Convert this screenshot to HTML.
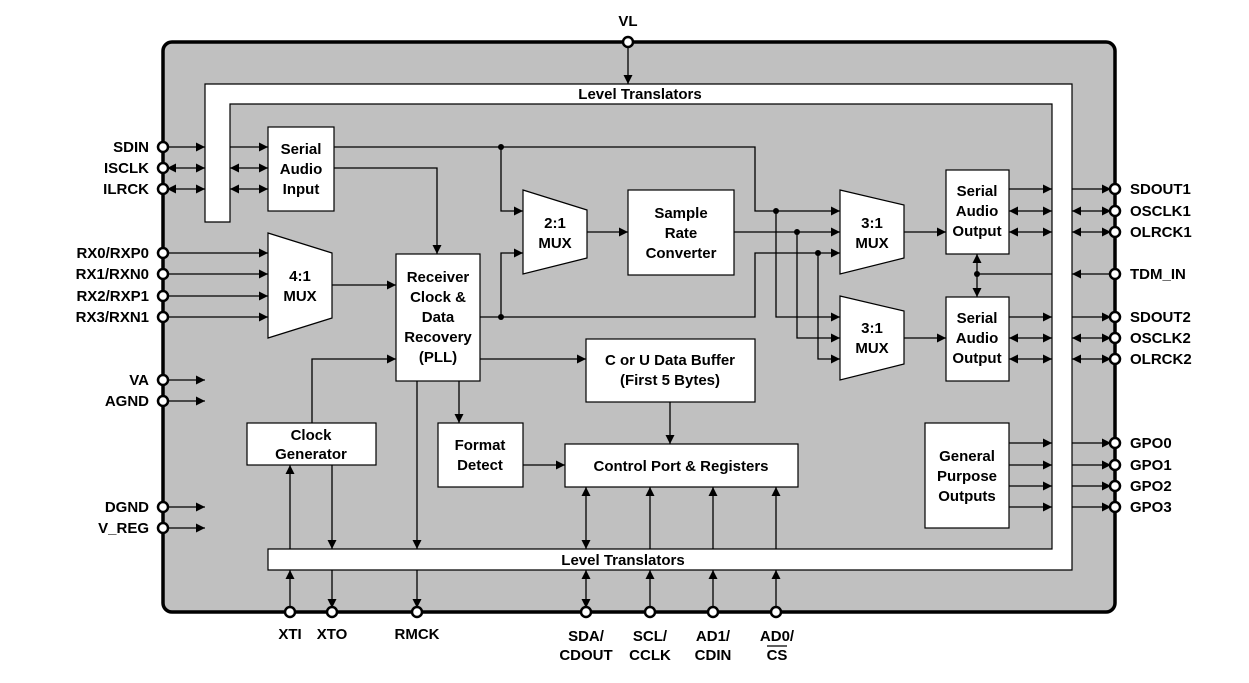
<!DOCTYPE html>
<html><head><meta charset="utf-8"><style>
html,body{margin:0;padding:0;background:#fff;}
svg{display:block;}
text{font-family:"Liberation Sans",Arial,sans-serif;font-weight:bold;font-size:15px;fill:#000;}
</style></head><body>
<svg width="1249" height="683" viewBox="0 0 1249 683" xmlns="http://www.w3.org/2000/svg">
<defs>
<marker id="a" viewBox="0 0 10 10" refX="10" refY="5" markerWidth="9" markerHeight="9" markerUnits="userSpaceOnUse" orient="auto-start-reverse"><path d="M0,0 L10,5 L0,10 z" fill="#000"/></marker>
</defs>
<rect x="163" y="42" width="952" height="570" rx="9" fill="#c0c0c0" stroke="#000" stroke-width="3.5"/>
<polygon points="205,84 1072,84 1072,570 268,570 268,549 1052,549 1052,104 230,104 230,222 205,222" fill="#fff" stroke="#000" stroke-width="1.2"/>
<text x="640" y="99" text-anchor="middle">Level Translators</text>
<text x="623" y="565" text-anchor="middle">Level Translators</text>

<g stroke="#000" stroke-width="1.3" fill="none">
<line x1="628" y1="46" x2="628" y2="84" marker-end="url(#a)"/>
<line x1="167" y1="147" x2="205" y2="147" marker-end="url(#a)"/>
<line x1="230" y1="147" x2="268" y2="147" marker-end="url(#a)"/>
<line x1="167" y1="168" x2="205" y2="168" marker-start="url(#a)" marker-end="url(#a)"/>
<line x1="230" y1="168" x2="268" y2="168" marker-start="url(#a)" marker-end="url(#a)"/>
<line x1="167" y1="189" x2="205" y2="189" marker-start="url(#a)" marker-end="url(#a)"/>
<line x1="230" y1="189" x2="268" y2="189" marker-start="url(#a)" marker-end="url(#a)"/>
<line x1="167" y1="253" x2="268" y2="253" marker-end="url(#a)"/>
<line x1="167" y1="274" x2="268" y2="274" marker-end="url(#a)"/>
<line x1="167" y1="296" x2="268" y2="296" marker-end="url(#a)"/>
<line x1="167" y1="317" x2="268" y2="317" marker-end="url(#a)"/>
<line x1="167" y1="380" x2="205" y2="380" marker-end="url(#a)"/>
<line x1="167" y1="401" x2="205" y2="401" marker-end="url(#a)"/>
<line x1="167" y1="507" x2="205" y2="507" marker-end="url(#a)"/>
<line x1="167" y1="528" x2="205" y2="528" marker-end="url(#a)"/>
<polyline points="334,147 755,147 755,211 840,211" marker-end="url(#a)"/>
<polyline points="501,147 501,211 523,211" marker-end="url(#a)"/>
<polyline points="334,168 437,168 437,254" marker-end="url(#a)"/>
<line x1="332" y1="285" x2="396" y2="285" marker-end="url(#a)"/>
<polyline points="480,317 755,317 755,253 840,253" marker-end="url(#a)"/>
<polyline points="501,317 501,253 523,253" marker-end="url(#a)"/>
<line x1="587" y1="232" x2="628" y2="232" marker-end="url(#a)"/>
<line x1="734" y1="232" x2="840" y2="232" marker-end="url(#a)"/>
<polyline points="776,211 776,317 840,317" marker-end="url(#a)"/>
<polyline points="797,232 797,338 840,338" marker-end="url(#a)"/>
<polyline points="818,253 818,359 840,359" marker-end="url(#a)"/>
<line x1="904" y1="232" x2="946" y2="232" marker-end="url(#a)"/>
<line x1="904" y1="338" x2="946" y2="338" marker-end="url(#a)"/>
<line x1="1009" y1="189" x2="1052" y2="189" marker-end="url(#a)"/>
<line x1="1072" y1="189" x2="1111" y2="189" marker-end="url(#a)"/>
<line x1="1009" y1="211" x2="1052" y2="211" marker-start="url(#a)" marker-end="url(#a)"/>
<line x1="1072" y1="211" x2="1111" y2="211" marker-start="url(#a)" marker-end="url(#a)"/>
<line x1="1009" y1="232" x2="1052" y2="232" marker-start="url(#a)" marker-end="url(#a)"/>
<line x1="1072" y1="232" x2="1111" y2="232" marker-start="url(#a)" marker-end="url(#a)"/>
<line x1="1009" y1="317" x2="1052" y2="317" marker-end="url(#a)"/>
<line x1="1072" y1="317" x2="1111" y2="317" marker-end="url(#a)"/>
<line x1="1009" y1="338" x2="1052" y2="338" marker-start="url(#a)" marker-end="url(#a)"/>
<line x1="1072" y1="338" x2="1111" y2="338" marker-start="url(#a)" marker-end="url(#a)"/>
<line x1="1009" y1="359" x2="1052" y2="359" marker-start="url(#a)" marker-end="url(#a)"/>
<line x1="1072" y1="359" x2="1111" y2="359" marker-start="url(#a)" marker-end="url(#a)"/>
<line x1="1111" y1="274" x2="1072" y2="274" marker-end="url(#a)"/>
<line x1="1052" y1="274" x2="977" y2="274"/>
<line x1="977" y1="254" x2="977" y2="297" marker-start="url(#a)" marker-end="url(#a)"/>
<line x1="1009" y1="443" x2="1052" y2="443" marker-end="url(#a)"/>
<line x1="1009" y1="465" x2="1052" y2="465" marker-end="url(#a)"/>
<line x1="1009" y1="486" x2="1052" y2="486" marker-end="url(#a)"/>
<line x1="1009" y1="507" x2="1052" y2="507" marker-end="url(#a)"/>
<line x1="1072" y1="443" x2="1111" y2="443" marker-end="url(#a)"/>
<line x1="1072" y1="465" x2="1111" y2="465" marker-end="url(#a)"/>
<line x1="1072" y1="486" x2="1111" y2="486" marker-end="url(#a)"/>
<line x1="1072" y1="507" x2="1111" y2="507" marker-end="url(#a)"/>
<line x1="480" y1="359" x2="586" y2="359" marker-end="url(#a)"/>
<line x1="459" y1="381" x2="459" y2="423" marker-end="url(#a)"/>
<line x1="417" y1="381" x2="417" y2="549" marker-end="url(#a)"/>
<polyline points="312,423 312,359 396,359" marker-end="url(#a)"/>
<line x1="290" y1="549" x2="290" y2="465" marker-end="url(#a)"/>
<line x1="332" y1="465" x2="332" y2="549" marker-end="url(#a)"/>
<line x1="523" y1="465" x2="565" y2="465" marker-end="url(#a)"/>
<line x1="670" y1="402" x2="670" y2="444" marker-end="url(#a)"/>
<line x1="586" y1="487" x2="586" y2="549" marker-start="url(#a)" marker-end="url(#a)"/>
<line x1="650" y1="549" x2="650" y2="487" marker-end="url(#a)"/>
<line x1="713" y1="549" x2="713" y2="487" marker-end="url(#a)"/>
<line x1="776" y1="549" x2="776" y2="487" marker-end="url(#a)"/>
<line x1="290" y1="608" x2="290" y2="570" marker-end="url(#a)"/>
<line x1="332" y1="570" x2="332" y2="608" marker-end="url(#a)"/>
<line x1="417" y1="570" x2="417" y2="608" marker-end="url(#a)"/>
<line x1="586" y1="570" x2="586" y2="608" marker-start="url(#a)" marker-end="url(#a)"/>
<line x1="650" y1="608" x2="650" y2="570" marker-end="url(#a)"/>
<line x1="713" y1="608" x2="713" y2="570" marker-end="url(#a)"/>
<line x1="776" y1="608" x2="776" y2="570" marker-end="url(#a)"/>
</g>
<g fill="#000">
<circle cx="501" cy="147" r="3"/><circle cx="501" cy="317" r="3"/>
<circle cx="776" cy="211" r="3"/><circle cx="797" cy="232" r="3"/><circle cx="818" cy="253" r="3"/>
<circle cx="977" cy="274" r="3"/>
</g>

<g fill="#fff" stroke="#000" stroke-width="1.2">
<rect x="268" y="127" width="66" height="84"/>
<polygon points="268,233 332,253 332,318 268,338"/>
<rect x="396" y="254" width="84" height="127"/>
<polygon points="523,190 587,210 587,258 523,274"/>
<rect x="628" y="190" width="106" height="85"/>
<polygon points="840,190 904,205 904,258 840,274"/>
<polygon points="840,296 904,311 904,364 840,380"/>
<rect x="946" y="170" width="63" height="84"/>
<rect x="946" y="297" width="63" height="84"/>
<rect x="586" y="339" width="169" height="63"/>
<rect x="438" y="423" width="85" height="64"/>
<rect x="565" y="444" width="233" height="43"/>
<rect x="247" y="423" width="129" height="42"/>
<rect x="925" y="423" width="84" height="105"/>
</g>
<g text-anchor="middle">
<text x="301" y="154">Serial</text><text x="301" y="174">Audio</text><text x="301" y="194">Input</text>
<text x="300" y="281">4:1</text><text x="300" y="301">MUX</text>
<text x="438" y="282">Receiver</text><text x="438" y="302">Clock &amp;</text><text x="438" y="322">Data</text><text x="438" y="342">Recovery</text><text x="438" y="362">(PLL)</text>
<text x="555" y="228">2:1</text><text x="555" y="248">MUX</text>
<text x="681" y="218">Sample</text><text x="681" y="238">Rate</text><text x="681" y="258">Converter</text>
<text x="872" y="228">3:1</text><text x="872" y="248">MUX</text>
<text x="872" y="333">3:1</text><text x="872" y="353">MUX</text>
<text x="977" y="196">Serial</text><text x="977" y="216">Audio</text><text x="977" y="236">Output</text>
<text x="977" y="323">Serial</text><text x="977" y="343">Audio</text><text x="977" y="363">Output</text>
<text x="670" y="365">C or U Data Buffer</text><text x="670" y="385">(First 5 Bytes)</text>
<text x="480" y="450">Format</text><text x="480" y="470">Detect</text>
<text x="681" y="471">Control Port &amp; Registers</text>
<text x="311" y="440">Clock</text><text x="311" y="459">Generator</text>
<text x="967" y="461">General</text><text x="967" y="481">Purpose</text><text x="967" y="501">Outputs</text>
</g>

<g fill="#fff" stroke="#000" stroke-width="2.5">
<circle cx="628" cy="42" r="5"/>
<circle cx="163" cy="147" r="5"/><circle cx="163" cy="168" r="5"/><circle cx="163" cy="189" r="5"/>
<circle cx="163" cy="253" r="5"/><circle cx="163" cy="274" r="5"/><circle cx="163" cy="296" r="5"/><circle cx="163" cy="317" r="5"/>
<circle cx="163" cy="380" r="5"/><circle cx="163" cy="401" r="5"/><circle cx="163" cy="507" r="5"/><circle cx="163" cy="528" r="5"/>
<circle cx="1115" cy="189" r="5"/><circle cx="1115" cy="211" r="5"/><circle cx="1115" cy="232" r="5"/><circle cx="1115" cy="274" r="5"/>
<circle cx="1115" cy="317" r="5"/><circle cx="1115" cy="338" r="5"/><circle cx="1115" cy="359" r="5"/>
<circle cx="1115" cy="443" r="5"/><circle cx="1115" cy="465" r="5"/><circle cx="1115" cy="486" r="5"/><circle cx="1115" cy="507" r="5"/>
<circle cx="290" cy="612" r="5"/><circle cx="332" cy="612" r="5"/><circle cx="417" cy="612" r="5"/>
<circle cx="586" cy="612" r="5"/><circle cx="650" cy="612" r="5"/><circle cx="713" cy="612" r="5"/><circle cx="776" cy="612" r="5"/>
</g>
<text x="628" y="26" text-anchor="middle">VL</text>
<g text-anchor="end">
<text x="149" y="152">SDIN</text><text x="149" y="173">ISCLK</text><text x="149" y="194">ILRCK</text>
<text x="149" y="258">RX0/RXP0</text><text x="149" y="279">RX1/RXN0</text><text x="149" y="301">RX2/RXP1</text><text x="149" y="322">RX3/RXN1</text>
<text x="149" y="385">VA</text><text x="149" y="406">AGND</text><text x="149" y="512">DGND</text><text x="149" y="533">V_REG</text>
</g>
<g>
<text x="1130" y="194">SDOUT1</text><text x="1130" y="216">OSCLK1</text><text x="1130" y="237">OLRCK1</text><text x="1130" y="279">TDM_IN</text>
<text x="1130" y="322">SDOUT2</text><text x="1130" y="343">OSCLK2</text><text x="1130" y="364">OLRCK2</text>
<text x="1130" y="448">GPO0</text><text x="1130" y="470">GPO1</text><text x="1130" y="491">GPO2</text><text x="1130" y="512">GPO3</text>
</g>
<g text-anchor="middle">
<text x="290" y="639">XTI</text><text x="332" y="639">XTO</text><text x="417" y="639">RMCK</text>
<text x="586" y="641">SDA/</text><text x="586" y="660">CDOUT</text>
<text x="650" y="641">SCL/</text><text x="650" y="660">CCLK</text>
<text x="713" y="641">AD1/</text><text x="713" y="660">CDIN</text>
<text x="777" y="641">AD0/</text><text x="777" y="660">CS</text>
</g>
<line x1="767" y1="646" x2="787" y2="646" stroke="#000" stroke-width="1.3"/>
</svg>
</body></html>
